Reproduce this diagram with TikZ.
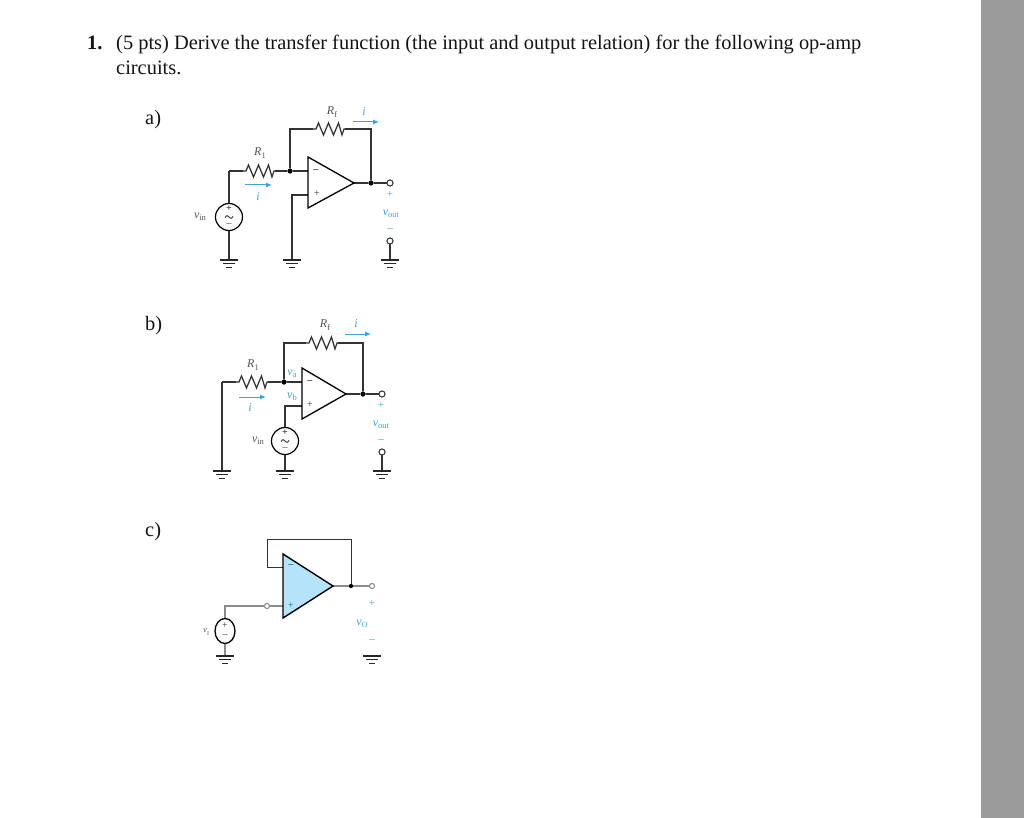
\documentclass[tikz,border=0pt]{standalone}
\usepackage{fontspec}
\setmainfont{Liberation Serif}
\usetikzlibrary{arrows.meta,shapes.geometric}
\definecolor{wirec}{HTML}{333333}
\definecolor{bluec}{HTML}{3FA3D6}
\definecolor{labc}{HTML}{555555}
\definecolor{barc}{HTML}{9B9B9B}
\definecolor{ampfill}{HTML}{B5E3FA}
\definecolor{greyw}{HTML}{8C8C8C}
\newcommand{\subt}[2][8.5]{\raisebox{-2.2pt}{\fontsize{#1}{#1}\selectfont\upshape #2}}
\tikzset{
  x=1pt,y=-1pt,
  wire/.style={draw=wirec,line width=1.25pt,line join=miter},
  soft/.style={draw=greyw,line width=1.1pt},
  amp/.style={draw=black,line width=1.3pt,line join=miter},
  jdot/.style={circle,fill=black,inner sep=0pt,minimum size=5pt},
  term/.style={circle,draw=wirec,fill=white,line width=0.9pt,inner sep=0pt,minimum size=6pt},
  src/.style={circle,draw=black,fill=white,line width=1.2pt,inner sep=0pt,minimum size=27pt},
  srcc/.style={ellipse,draw=black,fill=white,line width=1.3pt,inner sep=0pt,minimum width=20pt,minimum height=25pt},
  cur/.style={draw=bluec,line width=1pt,-{Latex[length=6pt,width=5pt]}},
  body/.style={font=\fontsize{20.42}{22}\selectfont,anchor=base west,inner sep=0pt,text=black!92},
  lab/.style={text=labc,font=\fontsize{12}{12}\selectfont\itshape,inner sep=0pt},
  bl/.style={text=bluec,font=\fontsize{12}{12}\selectfont\itshape,inner sep=0pt},
  sg/.style={text=bluec,font=\fontsize{11}{11}\selectfont,inner sep=0pt},
  mk/.style={text=black!80,font=\fontsize{10}{10}\selectfont,inner sep=0pt},
  res/.pic={\draw[wire] (0,0)--(3,0)--(5.5,-6)--(10.5,6)--(15.5,-6)--(20.5,6)--(25.5,-6)--(29,6)--(31,0)--(32,0);},
  gnd/.pic={\draw[draw=black!85,line width=1.3pt] (-9,0)--(9,0) (-6,3.6)--(6,3.6) (-2.8,7.2)--(2.8,7.2);},
  tld/.pic={\draw[black!80,line width=0.9pt] (-4,0.6) .. controls (-2.5,-2.2) and (-1,-1.6) .. (0,0) .. controls (1,1.6) and (2.5,2.2) .. (4,-0.6);}
}
\begin{document}
\begin{tikzpicture}
\useasboundingbox (0,0) rectangle (1024,818);
\fill[white] (0,0) rectangle (1024,818);
\fill[barc] (981,0) rectangle (1024,818);
\node[body,font=\fontsize{20.42}{22}\selectfont\bfseries] (num) at (87,50) {1.};
\node[body] (l1) at (116,50) {(5 pts) Derive the transfer function (the input and output relation) for the following op-amp};
\node[body] (l2) at (116,75) {circuits.};
\node[body] (pa) at (145,125) {a)};
\node[body] (pb) at (145,330) {b)};
\node[body] (pc) at (145,536) {c)};

% ---------- a
\coordinate (aTL) at (290,129); \coordinate (aTR) at (371,129);
\node[jdot] (aJ) at (290,171) {};
\node[jdot] (aO) at (371,183) {};
\node[term] (aT1) at (390,183) {};
\node[term] (aT2) at (390,241) {};
\coordinate (aA) at (308,157); \coordinate (aB) at (308,208); \coordinate (aC) at (354,183);
\coordinate (aMi) at (308,171); \coordinate (aPl) at (308,195);
\coordinate (aPw) at (292,195); \coordinate (aG2) at (292,260);
\coordinate (aW) at (229,171); \coordinate (aG1) at (229,260); \coordinate (aG3) at (390,260);
\coordinate (aRfa) at (313,129); \coordinate (aRfb) at (345,129);
\coordinate (aRa) at (243,171); \coordinate (aRb) at (275,171);
\draw[wire] (aJ) -- (aTL) -- (aRfa) (aRfb) -- (aTR) -- (aO);
\draw[wire] (aW) -- (aRa) (aRb) -- (aJ) -- (aMi);
\draw[wire] (aPl) -- (aPw) -- (aG2);
\draw[wire] (aC) -- (aO) -- (aT1);
\draw[wire] (aW) -- (aG1);
\draw[wire] (aT2) -- (aG3);
\pic at (aRfa) {res}; \pic at (aRa) {res};
\draw[amp,fill=white] (aA) -- (aC) -- (aB) -- cycle;
\node[jdot] at (aJ) {}; \node[jdot] at (aO) {};
\node[term] at (aT1) {}; \node[term] at (aT2) {};
\node[src] (aS) at (229,217) {};
\node[mk] (aS1) at (229,209) {\textbf{+}};
\pic at (aS) {tld};
\node[mk] (aS3) at (229,225) {–};
\pic at (aG1) {gnd}; \pic at (aG2) {gnd}; \pic at (aG3) {gnd};
\node[mk] (aM) at (316,171) {\textbf{–}};
\node[mk] (aP) at (317,194) {+};
\node[lab] (aRf) at (332,112) {R\subt{f}};
\node[lab] (aR1) at (260,153) {R\subt{1}};
\node[bl] (ai1) at (364,112) {i};
\node[bl] (ai2) at (258,197) {i};
\coordinate (aa1) at (353,122); \coordinate (aa2) at (379,122);
\coordinate (ab1) at (245,185); \coordinate (ab2) at (272,185);
\draw[cur] (aa1) -- (aa2); \draw[cur] (ab1) -- (ab2);
\node[lab] (avin) at (200,217) {v\subt{in}};
\node[sg] (apl) at (390,194) {+};
\node[bl] (avo) at (391,214) {v\subt{out}};
\node[sg] (ami) at (390,230) {–};

% ---------- b
\coordinate (bTL) at (284,343); \coordinate (bTR) at (363,343);
\node[jdot] (bJ) at (284,382) {};
\node[jdot] (bO) at (363,394) {};
\node[term] (bT1) at (382,394) {};
\node[term] (bT2) at (382,452) {};
\coordinate (bA) at (302,368); \coordinate (bB) at (302,419); \coordinate (bC) at (346,394);
\coordinate (bMi) at (302,382); \coordinate (bPl) at (302,406);
\coordinate (bPw) at (285,406); \coordinate (bG2) at (285,471);
\coordinate (bW) at (222,382); \coordinate (bG1) at (222,471); \coordinate (bG3) at (382,471);
\coordinate (bRfa) at (306,343); \coordinate (bRfb) at (338,343);
\coordinate (bRa) at (236,382); \coordinate (bRb) at (268,382);
\draw[wire] (bJ) -- (bTL) -- (bRfa) (bRfb) -- (bTR) -- (bO);
\draw[wire] (bW) -- (bRa) (bRb) -- (bJ) -- (bMi);
\draw[wire] (bPl) -- (bPw) -- (bG2);
\draw[wire] (bC) -- (bO) -- (bT1);
\draw[wire] (bW) -- (bG1);
\draw[wire] (bT2) -- (bG3);
\pic at (bRfa) {res}; \pic at (bRa) {res};
\draw[amp,fill=white] (bA) -- (bC) -- (bB) -- cycle;
\node[jdot] at (bJ) {}; \node[jdot] at (bO) {};
\node[term] at (bT1) {}; \node[term] at (bT2) {};
\node[src] (bS) at (285,441) {};
\node[mk] (bS1) at (285,433) {\textbf{+}};
\pic at (bS) {tld};
\node[mk] (bS3) at (285,449) {–};
\pic at (bG1) {gnd}; \pic at (bG2) {gnd}; \pic at (bG3) {gnd};
\node[mk] (bM) at (310,382) {\textbf{–}};
\node[mk] (bP) at (310,405) {+};
\node[lab] (bRf) at (325,325) {R\subt{f}};
\node[lab] (bR1) at (253,365) {R\subt{1}};
\node[bl] (bi1) at (356,324) {i};
\node[bl] (bi2) at (250,408) {i};
\coordinate (ba1) at (345,334); \coordinate (ba2) at (371,334);
\coordinate (bb1) at (239,397); \coordinate (bb2) at (266,397);
\draw[cur] (ba1) -- (ba2); \draw[cur] (bb1) -- (bb2);
\node[bl] (bva) at (292,374) {v\subt{a}};
\node[bl] (bvb) at (292,397) {v\subt{b}};
\node[lab] (bvin) at (258,441) {v\subt{in}};
\node[sg] (bpl) at (381,405) {+};
\node[bl] (bvo) at (381,425) {v\subt{out}};
\node[sg] (bmi) at (381,441) {–};

% ---------- c
\coordinate (cTL) at (267,539); \coordinate (cTR) at (351,539);
\coordinate (cLo) at (267,567); \coordinate (cMi) at (283,567);
\coordinate (cA) at (283,554); \coordinate (cB) at (283,618); \coordinate (cC) at (333,586);
\node[jdot,minimum size=4pt] (cO) at (351,586) {};
\node[term,draw=greyw,minimum size=5pt] (cT) at (372,586) {};
\node[term,draw=greyw,minimum size=5pt] (cI) at (267,606) {};
\coordinate (cPl) at (283,606); \coordinate (cW) at (225,606); \coordinate (cG1) at (225,656); \coordinate (cG2) at (372,656);
\draw[wire,line width=1pt] (cMi) -- (cLo) -- (cTL) -- (cTR) -- (cO);
\draw[soft] (cC) -- (cO) -- (cT);
\draw[soft] (cPl) -- (cI) -- (cW) -- (cG1);
\draw[amp,fill=ampfill,line width=1.4pt] (cA) -- (cC) -- (cB) -- cycle;
\node[jdot,minimum size=4pt] at (cO) {};
\node[term,draw=greyw,minimum size=5pt] at (cT) {};
\node[term,draw=greyw,minimum size=5pt] at (cI) {};
\node[srcc] (cS) at (225,631) {};
\node[mk] (cS1) at (225,626) {+};
\node[mk] (cS2) at (225,636) {–};
\pic at (cG1) {gnd}; \pic at (cG2) {gnd};
\node[mk,text=bluec!60!black] (cM) at (291,566) {\textbf{–}};
\node[mk,text=bluec!60!black] (cP) at (291,606) {+};
\node[lab,font=\fontsize{9}{9}\selectfont\itshape] (cvi) at (206,632) {v\subt[6]{I}};
\node[sg] (cpl) at (372,603) {+};
\node[bl] (cvo) at (362,624) {v\subt[8]{O}};
\node[sg] (cmi) at (372,641) {–};
\end{tikzpicture}
\end{document}
